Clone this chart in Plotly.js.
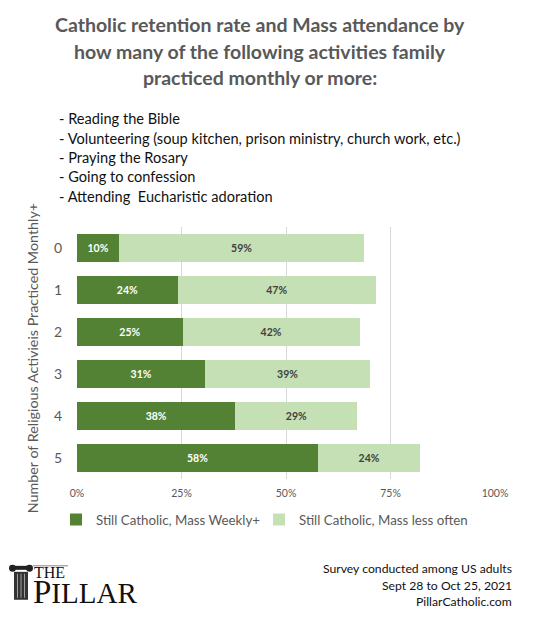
<!DOCTYPE html>
<html><head><meta charset="utf-8">
<script src="https://cdn.plot.ly/plotly-3.0.1.min.js"></script>
<style>body{margin:0;background:#fff}#chart{width:535px;height:617px}</style>
</head><body><div id="chart"></div>
<script>
const categories = ["0","1","2","3","4","5"];
const weekly = [10.1, 24.1, 25.3, 30.7, 37.9, 57.7];
const lessOften = [58.6, 47.4, 42.3, 39.4, 29.2, 24.4];
const seriesNames = ["Still Catholic, Mass Weekly+", "Still Catholic, Mass less often"];
const xTickVals = [0, 25, 50, 75, 100];
const xTickText = ["0%", "25%", "50%", "75%", "100%"];
const titleLines = ["Catholic retention rate and Mass attendance by", "how many of the following activities family", "practiced monthly or more:"];
const activities = ["- Reading the Bible", "- Volunteering (soup kitchen, prison ministry, church work, etc.)", "- Praying the Rosary", "- Going to confession", "- Attending  Eucharistic adoration"];
const footerLines = ["Survey conducted among US adults", "Sept 28 to Oct 25, 2021", "PillarCatholic.com"];
const yTitle = "Number of Religious Activieis Practiced Monthly+";

const FONT = "Lato, 'Open Sans', sans-serif";
const SERIF = "'Liberation Serif', 'DejaVu Serif', serif";
const traces = [
  {type:'bar', orientation:'h', y:categories, x:weekly, name:seriesNames[0], legend:'legend',
   marker:{color:'#548235'}, texttemplate:'%{x:.0f}%', textposition:'inside', insidetextanchor:'middle',
   textfont:{color:'#ffffff', size:10.5, family:FONT, weight:'bold'}, hoverinfo:'skip'},
  {type:'bar', orientation:'h', y:categories, x:lessOften, name:seriesNames[1], legend:'legend2',
   marker:{color:'#C5E0B4'}, texttemplate:'%{x:.0f}%', textposition:'inside', insidetextanchor:'middle',
   textfont:{color:'#404040', size:10.5, family:FONT, weight:'bold'}, hoverinfo:'skip'}
];

function px(x){return (x-77)/418;}
function py(y){return (479-y)/252.5;}

const annotations = [];
titleLines.forEach((t,i)=>annotations.push({xref:'paper', yref:'paper', x:px(260), y:py(24+i*26.3),
  text:'<b>'+t+'</b>', showarrow:false, xanchor:'center', yanchor:'middle', font:{family:FONT, size:19.5, color:'#595959'}}));
activities.forEach((t,i)=>annotations.push({xref:'paper', yref:'paper', x:px(57), y:py(118+i*19.4),
  text:t, showarrow:false, xanchor:'left', yanchor:'middle', font:{family:FONT, size:14.6, color:'#111111'}}));
footerLines.forEach((t,i)=>annotations.push({xref:'paper', yref:'paper', x:px(514), y:py(569+i*16.3),
  text:t, showarrow:false, xanchor:'right', yanchor:'middle', font:{family:FONT, size:12.2, color:'#111111'}}));
annotations.push({xref:'paper', yref:'paper', x:px(32), y:py(358), text:yTitle, textangle:-90,
  showarrow:false, xanchor:'center', yanchor:'middle', font:{family:FONT, size:14.3, color:'#595959'}});
// logo text
annotations.push({xref:'paper', yref:'paper', x:px(32), y:py(573), text:'THE', showarrow:false,
  xanchor:'left', yanchor:'middle', font:{family:SERIF, size:16, color:'#111'}});
annotations.push({xref:'paper', yref:'paper', x:px(31), y:py(592), text:'P<span style="font-size:29px">ILLAR</span>', showarrow:false,
  xanchor:'left', yanchor:'middle', font:{family:SERIF, size:33, color:'#111'}});

const shapes = [
  {type:'rect', xref:'paper', yref:'paper', x0:px(12), x1:px(30), y0:py(570), y1:py(566), fillcolor:'#222', line:{width:0}},
  {type:'circle', xref:'paper', yref:'paper', x0:px(9), x1:px(16), y0:py(572), y1:py(565), fillcolor:'#222', line:{width:0}},
  {type:'circle', xref:'paper', yref:'paper', x0:px(26), x1:px(33), y0:py(572), y1:py(565), fillcolor:'#222', line:{width:0}},
  {type:'line', xref:'paper', yref:'paper', x0:px(33), x1:px(68), y0:py(566), y1:py(566), line:{color:'#666', width:0.8}},
  {type:'rect', xref:'paper', yref:'paper', x0:px(14), x1:px(28), y0:py(600), y1:py(572), fillcolor:'#333', line:{width:0}},
  {type:'line', xref:'paper', yref:'paper', x0:px(17.5), x1:px(17.5), y0:py(598), y1:py(574), line:{color:'#bbb', width:0.8}},
  {type:'line', xref:'paper', yref:'paper', x0:px(21), x1:px(21), y0:py(598), y1:py(574), line:{color:'#bbb', width:0.8}},
  {type:'line', xref:'paper', yref:'paper', x0:px(24.5), x1:px(24.5), y0:py(598), y1:py(574), line:{color:'#bbb', width:0.8}}
];

const legendBase = {orientation:'h', yanchor:'middle', xanchor:'left', font:{size:13.3, color:'#595959', family:FONT}, itemwidth:30, bgcolor:'rgba(0,0,0,0)'};
const layout = {
  width:535, height:617, paper_bgcolor:'#fff', plot_bgcolor:'#fff',
  margin:{l:77, r:40, t:226.5, b:138, pad:0},
  barmode:'stack', bargap:0.33, showlegend:true,
  font:{family:FONT},
  xaxis:{range:[0,100], tickvals:xTickVals, ticktext:xTickText, showgrid:true, gridcolor:'#d9d9d9', gridwidth:1,
    zeroline:false, showline:false, ticks:'', ticklabelstandoff:6, tickfont:{size:10.5, color:'#595959', family:FONT}, fixedrange:true},
  yaxis:{type:'category', categoryorder:'array', categoryarray:categories, autorange:'reversed',
    showgrid:false, zeroline:false, showline:false, ticks:'', ticklabelstandoff:14,
    tickfont:{size:14, color:'#595959', family:FONT}, fixedrange:true},
  legend:Object.assign({}, legendBase, {x:px(56), y:py(520)}),
  legend2:Object.assign({}, legendBase, {x:px(259), y:py(520)}),
  annotations:annotations, shapes:shapes
};
Plotly.newPlot('chart', traces, layout, {displayModeBar:false, staticPlot:true});
</script></body></html>
